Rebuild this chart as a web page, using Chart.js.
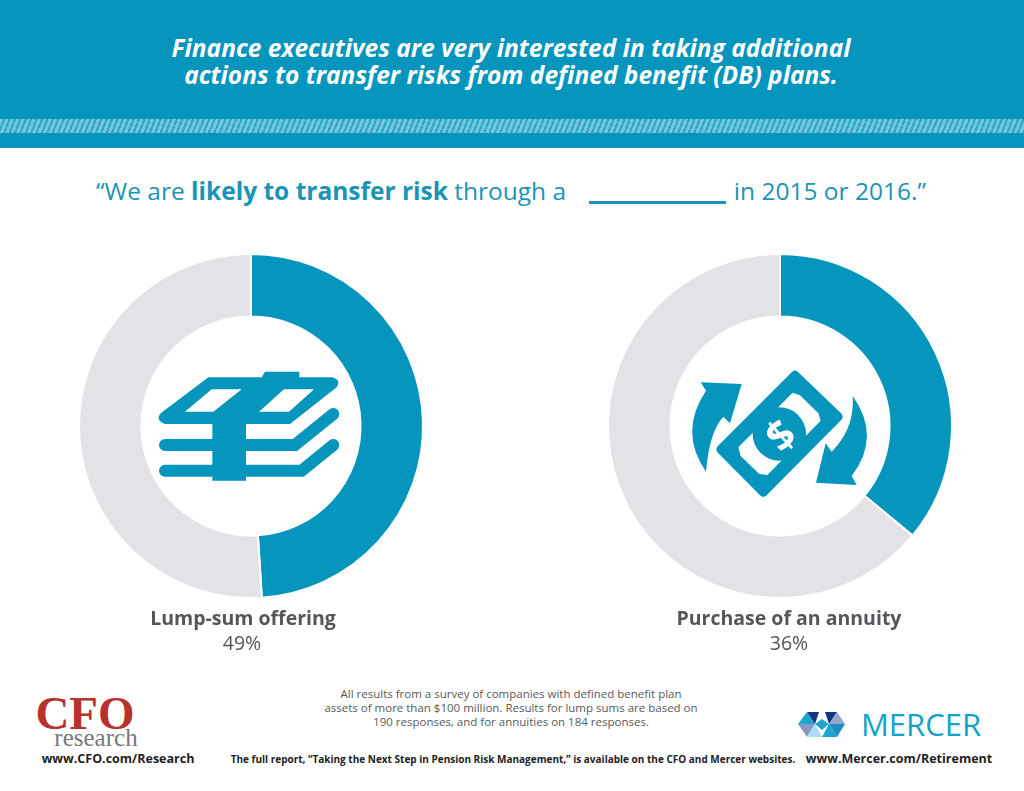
<!DOCTYPE html>
<html>
<head>
<meta charset="utf-8">
<title>Risk transfer</title>
<script src="https://cdn.jsdelivr.net/npm/chart.js@4/dist/chart.umd.min.js"></script>
<style>
  html, body { margin: 0; padding: 0; background: #fff; }
  #page { position: relative; width: 1024px; height: 791px; overflow: hidden; font-family: "Open Sans", sans-serif; }
  #page div, #page canvas, #page svg { position: absolute; }
  .txt { white-space: nowrap; transform: translateX(-50%); text-align: center; }
  #header { left: 0; top: 0; width: 1024px; height: 148px; background: #0595bd; }
  #stripes { left: 0; top: 119px; width: 1024px; height: 14px;
    background: repeating-linear-gradient(112deg, #72c6de 0 3px, #2fa6c8 3px 5px); }
  .title { left: 511px; color: #fff; font-weight: 700; font-style: italic; font-size: 24.5px; line-height: 30px; }
  #quote { left: 511px; top: 174px; color: #1b93b8; font-size: 24.5px; line-height: 34px; }
  #quote b { font-weight: 700; }
  #blank { left: 589px; top: 201px; width: 137px; height: 3px; background: #1b93b8; }
  .name { color: #555659; font-weight: 700; font-size: 19.5px; line-height: 24px; top: 606px; }
  .pct { color: #555659; font-size: 19.5px; line-height: 24px; top: 631px; }
  .note { left: 511px; color: #58595b; font-size: 11.5px; line-height: 14px; }
  .bold { color: #222; font-weight: 700; }
</style>
</head>
<body>
<div id="page">
  <div id="header"></div>
  <div id="stripes"></div>
  <div class="txt title" style="top:33px">Finance executives are very interested in taking additional</div>
  <div class="txt title" style="top:60px">actions to transfer risks from defined benefit (DB) plans.</div>
  <div class="txt" id="quote">“We are <b>likely to transfer risk</b> through a <span style="display:inline-block;width:155px"></span> in 2015 or 2016.”</div>
  <div id="blank"></div>

  <canvas id="chart-left" style="left:71px;top:246px"></canvas>
  <canvas id="chart-right" style="left:600px;top:246px"></canvas>

  <svg style="left:140px;top:350px" width="220" height="150" viewBox="0 0 660 450">
    <path d="M205,82 L365,82 L375,65 L478,65 L478,82 L575,82 Q605,88 590,112 L450,222 L318,222 L318,392 L217,392 L217,222 L75,222 Q45,212 62,190 Z" fill="#0595bd"/>
    <path d="M135,185 L220,185 L305,118 L215,118 Z M357,185 L447,185 L522,118 L432,118 Z" fill="#fff"/>
    <path d="M75,285 L465,285 L580,192 M75,362 L485,362 L580,285" fill="none" stroke="#0595bd" stroke-width="36" stroke-linecap="round" stroke-linejoin="miter"/>
  </svg>

  <svg style="left:680px;top:360px" width="200" height="145" viewBox="0 0 600 435">
    <path d="M345,45 L475,170 L250,397 L122,268 Z" fill="#0595bd" stroke="#0595bd" stroke-width="26" stroke-linejoin="round"/>
    <path d="M338,98 L360,106 L415,160 L422,182 L262,345 L238,342 L182,288 L175,262 Z" fill="#fff"/>
    <circle cx="298" cy="222" r="80" fill="#0595bd"/>
    <text x="298" y="222" transform="rotate(-42 298 222)" text-anchor="middle" dominant-baseline="central" fill="#fff" font-family="Open Sans" font-weight="700" font-size="125">$</text>
    <path d="M62,67 L185,72 L150,190 L130,170 Q88,215 78,335 Q-5,215 78,92 Z" fill="#0595bd"/>
    <path d="M518,108 Q605,230 515,348 L530,375 L408,368 L437,250 L455,275 Q525,205 518,108 Z" fill="#0595bd"/>
  </svg>

  <div class="txt name" id="name-left" style="left:243px"></div>
  <div class="txt pct" id="pct-left" style="left:242px"></div>
  <div class="txt name" id="name-right" style="left:789px"></div>
  <div class="txt pct" id="pct-right" style="left:789px"></div>

  <div class="txt note" style="top:687px">All results from a survey of companies with defined benefit plan</div>
  <div class="txt note" style="top:701px">assets of more than $100 million. Results for lump sums are based on</div>
  <div class="txt note" style="top:715px">190 responses, and for annuities on 184 responses.</div>
  <div class="txt bold" style="left:513px;top:752px;font-size:10px;line-height:14px">The full report, “Taking the Next Step in Pension Risk Management,” is available on the CFO and Mercer websites.</div>

  <div class="txt" style="left:85px;top:687px;color:#b7322c;font-family:'Liberation Serif',serif;font-weight:700;font-size:47px;line-height:52px">CFO</div>
  <div class="txt" style="left:96px;top:724px;color:#77787b;font-family:'Liberation Serif',serif;font-size:25px;line-height:28px">research</div>
  <div class="txt bold" style="left:118px;top:751px;font-size:12.5px;line-height:16px">www.CFO.com/Research</div>

  <svg style="left:798px;top:711px" width="48" height="27" viewBox="0 0 48 27">
    <path d="M0,13 L9,1 L17,13 Z" fill="#1fa5cf"/>
    <path d="M9,1 L21,1 L17,13 Z" fill="#14357f"/>
    <path d="M17,13 L24,8 L31,13 L24,19 Z" fill="#1fa5cf"/>
    <path d="M27,1 L39,1 L31,13 Z" fill="#14357f"/>
    <path d="M39,1 L47,13 L31,13 Z" fill="#9aa5cf"/>
    <path d="M0,13 L17,13 L9,26 Z" fill="#8d97c4"/>
    <path d="M9,26 L17,13 L24,26 Z" fill="#a9ddf0"/>
    <path d="M24,26 L31,13 L39,26 Z" fill="#1fa5cf"/>
    <path d="M31,13 L47,13 L39,26 Z" fill="#1f8fc0"/>
  </svg>
  <div class="txt" style="left:921px;top:704px;color:#12a3cc;font-size:31px;line-height:40px">MERCER</div>
  <div class="txt bold" style="left:899px;top:751px;font-size:12.5px;line-height:16px">www.Mercer.com/Retirement</div>
</div>

<script>
// Values
const categories = ['Lump-sum offering', 'Purchase of an annuity'];
const likely = [49, 36];

const BLUE = '#0595bd';
const GREY = '#e2e3e6';

function drawDonut(canvasId, value) {
  new Chart(document.getElementById(canvasId), {
    type: 'doughnut',
    data: {
      labels: ['Likely', 'Other'],
      datasets: [{
        data: [value, 100 - value],
        backgroundColor: [BLUE, GREY],
        borderColor: '#fff',
        borderWidth: 2
      }]
    },
    options: {
      responsive: false,
      animation: false,
      radius: 172,
      cutout: 114,
      plugins: { legend: { display: false }, tooltip: { enabled: false } }
    }
  });
}

['left', 'right'].forEach((side, i) => {
  const canvas = document.getElementById('chart-' + side);
  canvas.width = 360;
  canvas.height = 360;
  drawDonut('chart-' + side, likely[i]);
  document.getElementById('name-' + side).textContent = categories[i];
  document.getElementById('pct-' + side).textContent = likely[i] + '%';
});
</script>
</body>
</html>
